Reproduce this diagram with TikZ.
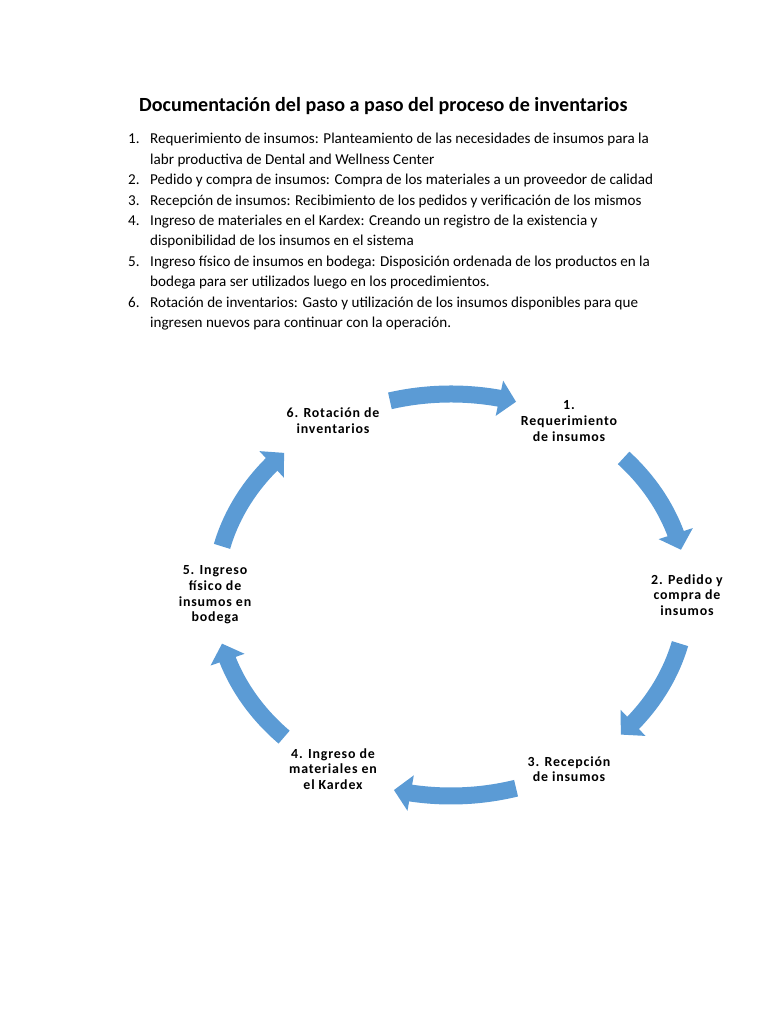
\documentclass[tikz,border=0pt]{standalone}
\usepackage{fontspec}
\setmainfont{Carlito}
\newfontfamily\stagefont[LetterSpace=6]{Carlito}
\usetikzlibrary{arrows.meta,bending,calc}
\definecolor{cycleblue}{RGB}{91,155,213}

\begin{document}
\begin{tikzpicture}[x=1pt, y=1pt, every node/.style={inner sep=0pt},
  item/.style={anchor=base west, align=left, font=\fontsize{15.1}{20.4}\selectfont},
  stage/.style={align=center, font=\stagefont\bfseries\fontsize{13.9}{15.7}\selectfont},
  cycarrow/.style={draw=cycleblue, line width=17pt, -{Triangle[length=17pt, width=35pt, flex]}}]
  \useasboundingbox (0,0) rectangle (768,1024);
  \node[anchor=base west, font=\bfseries\fontsize{20.1}{24}\selectfont] (title) at (139,912.3) {Documentación del paso a paso del proceso de inventarios};

  \node[item] (n1) at (128,880) {1.};
  \node[item] (i1) at (150,859.6) {Requerimiento de insumos: Planteamiento de las necesidades de insumos para la\\labr productiva de Dental and Wellness Center};
  \node[item] (n2) at (128,839.2) {2.};
  \node[item] (i2) at (150,839.2) {Pedido y compra de insumos: Compra de los materiales a un proveedor de calidad};
  \node[item] (n3) at (128,818.8) {3.};
  \node[item] (i3) at (150,818.8) {Recepción de insumos: Recibimiento de los pedidos y verificación de los mismos};
  \node[item] (n4) at (128,798.4) {4.};
  \node[item] (i4) at (150,778) {Ingreso de materiales en el Kardex: Creando un registro de la existencia y\\disponibilidad de los insumos en el sistema};
  \node[item] (n5) at (128,757.6) {5.};
  \node[item] (i5) at (150,737.2) {Ingreso físico de insumos en bodega: Disposición ordenada de los productos en la\\bodega para ser utilizados luego en los procedimientos.};
  \node[item] (n6) at (128,716.8) {6.};
  \node[item] (i6) at (150,696.4) {Rotación de inventarios: Gasto y utilización de los insumos disponibles para que\\ingresen nuevos para continuar con la operación.};

  \coordinate (o) at (451,429);
  \node[stage] (requerimiento) at ($(o)+(60:236 and 201)$) {1.\\Requerimiento\\de insumos};
  \node[stage] (pedido) at ($(o)+(0:236 and 201)$) {2. Pedido y\\compra de\\insumos};
  \node[stage] (recepcion) at ($(o)+(-60:236 and 201)$) {3. Recepción\\de insumos};
  \node[stage] (kardex) at ($(o)+(-120:236 and 201)$) {4. Ingreso de\\materiales en\\el Kardex};
  \node[stage] (bodega) at ($(o)+(180:236 and 201)$) {5. Ingreso\\físico de\\insumos en\\bodega};
  \node[stage] (rotacion) at ($(o)+(120:236 and 201)$) {6. Rotación de\\inventarios};

  \coordinate (a1) at ($(o)+(105:236 and 201)$);
  \coordinate (a2) at ($(o)+(43:236 and 201)$);
  \coordinate (a3) at ($(o)+(-14:236 and 201)$);
  \coordinate (a4) at ($(o)+(-74:236 and 201)$);
  \coordinate (a5) at ($(o)+(-135:236 and 201)$);
  \coordinate (a6) at ($(o)+(166:236 and 201)$);
  \draw[cycarrow] (a1) arc[start angle=105, end angle=74, x radius=236, y radius=201];
  \draw[cycarrow] (a2) arc[start angle=43, end angle=13, x radius=236, y radius=201];
  \draw[cycarrow] (a3) arc[start angle=-14, end angle=-44, x radius=236, y radius=201];
  \draw[cycarrow] (a4) arc[start angle=-74, end angle=-104, x radius=236, y radius=201];
  \draw[cycarrow] (a5) arc[start angle=-135, end angle=-166, x radius=236, y radius=201];
  \draw[cycarrow] (a6) arc[start angle=166, end angle=135, x radius=236, y radius=201];
\end{tikzpicture}
\end{document}
